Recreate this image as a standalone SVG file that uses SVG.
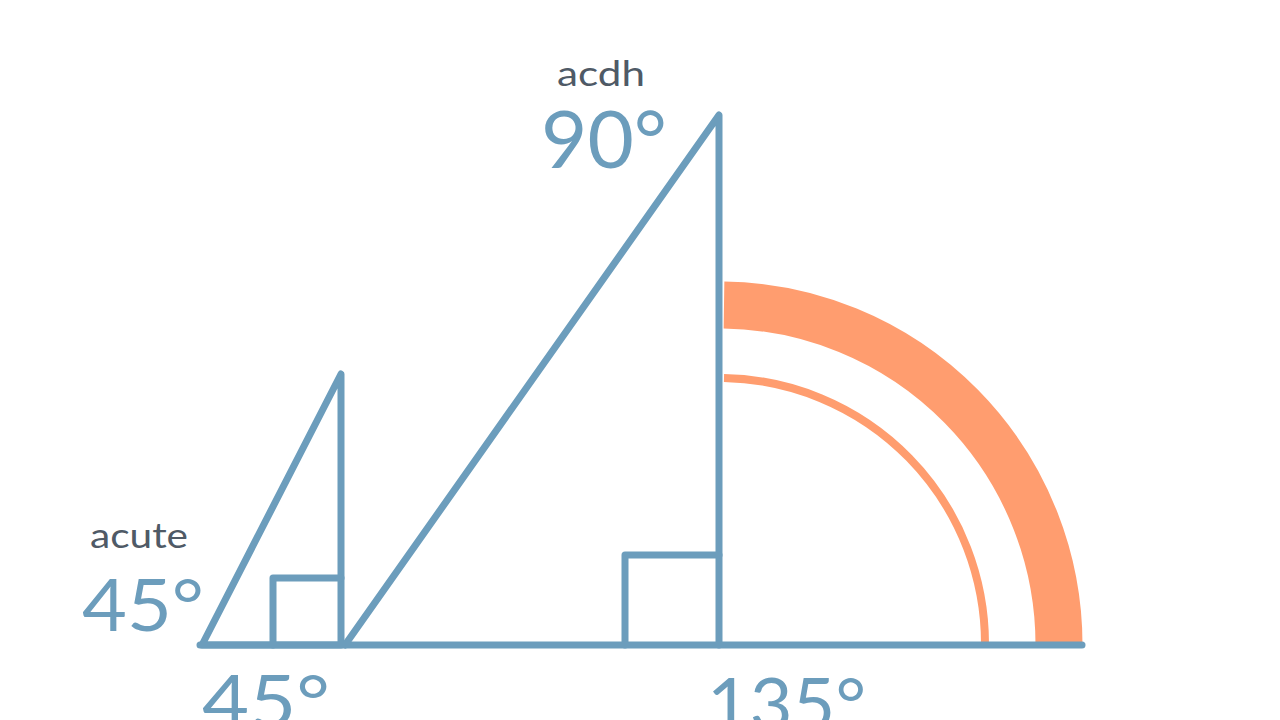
<svg xmlns="http://www.w3.org/2000/svg" width="1280" height="720" viewBox="0 0 1280 720">
<style>
.ln{fill:none;stroke:#6c9dbc;stroke-width:7;stroke-linejoin:round;stroke-linecap:round}
.lbl{font-family:Lato,"Open Sans",sans-serif;fill:#4f5a66}
.deg{font-family:Lato,"Open Sans",sans-serif;fill:#6c9dbc}
.arc{fill:none;stroke:#ff9d6f}
</style>
<rect width="1280" height="720" fill="#ffffff"/>
<g id="arcs">
<path class="arc" d="M724 305 A340 340 0 0 1 1059 645" stroke-width="47"/>
<path class="arc" d="M724 378 A266 266 0 0 1 985 645" stroke-width="8"/>
</g>
<g id="small-triangle">
<path class="ln" d="M202 645 L341 374 L341 645 Z"/>
<path class="ln" d="M273 645 L273 578 L341 578"/>
</g>
<g id="big-triangle">
<path class="ln" d="M345 645 L719 115 L719 645"/>
<path class="ln" d="M625 645 L625 555 L719 555"/>
</g>
<g id="baseline">
<path class="ln" d="M200 645 L1082 645"/>
</g>
<g id="labels">
<text class="lbl" x="90" y="548" font-size="35" textLength="98" lengthAdjust="spacingAndGlyphs">acute</text>
<text class="deg" x="82" y="631" font-size="72" textLength="122" lengthAdjust="spacingAndGlyphs">45°</text>
<text class="lbl" x="557" y="86" font-size="35" textLength="88" lengthAdjust="spacingAndGlyphs">acdh</text>
<text class="deg" x="541" y="168" font-size="80" textLength="126" lengthAdjust="spacingAndGlyphs">90°</text>
<text class="deg" x="202" y="727" font-size="72" textLength="128" lengthAdjust="spacingAndGlyphs">45°</text>
<text class="deg" x="707" y="730" font-size="72" textLength="159" lengthAdjust="spacingAndGlyphs">135°</text>
</g>
</svg>
